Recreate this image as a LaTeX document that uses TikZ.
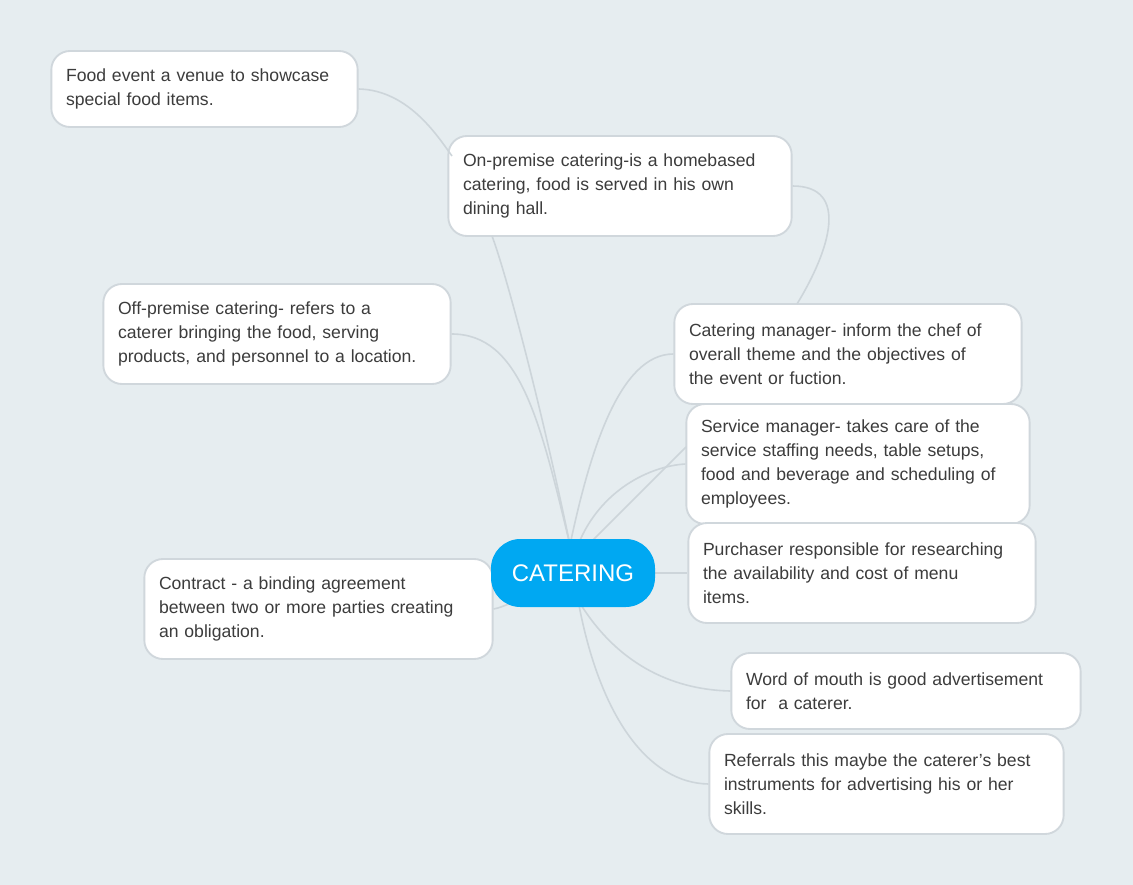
\documentclass[tikz,border=0pt]{standalone}
\usepackage{fontspec}
\setmainfont{Liberation Sans}
\definecolor{bg}{HTML}{E6EDF0}
\definecolor{bd}{HTML}{D0D7DC}
\definecolor{tx}{HTML}{3C3C3C}
\definecolor{rootc}{HTML}{00A8F2}
\definecolor{ln}{HTML}{CDD5DA}
\begin{document}
\begin{tikzpicture}[x=0.75pt,y=-0.75pt,
  box/.style={draw=bd,line width=1.4pt,fill=white,rounded corners=14pt,align=left,
    text=tx,font=\fontsize{13.2pt}{18pt}\selectfont,inner xsep=11pt,inner ysep=0pt},
  conn/.style={draw=ln,line width=1.2pt}]
\fill[bg] (0,0) rectangle (1133,885);
\node[box,text width=207.75pt,minimum height=57pt] (n1) at (204.5,89) {Food event a venue to showcase\\special food items.};
\node[box,text width=235.5pt,minimum height=75pt] (n2) at (620,186) {On-premise catering-is a homebased\\catering, food is served in his own\\dining hall.};
\node[box,text width=238.5pt,minimum height=75pt] (n3) at (277,334) {Off-premise catering- refers to a\\caterer bringing the food, serving\\products, and personnel to a location.};
\node[box,text width=238.5pt,minimum height=75pt] (n4) at (848,354) {Catering manager- inform the chef of\\overall theme and the objectives of\\the event or fuction.};
\node[box,text width=235.5pt,minimum height=90pt] (n5) at (858,464) {Service manager- takes care of the\\service staffing needs, table setups,\\food and beverage and scheduling of\\employees.};
\node[box,text width=238.5pt,minimum height=75pt] (n6) at (862,573) {Purchaser responsible for researching\\the availability and cost of menu\\items.};
\node[box,text width=239.25pt,minimum height=75pt] (n7) at (318.5,609) {Contract - a binding agreement\\between two or more parties creating\\an obligation.};
\node[box,text width=240pt,minimum height=57pt] (n8) at (906,691) {Word of mouth is good advertisement\\for~~a caterer.};
\node[box,text width=243.75pt,minimum height=75pt] (n9) at (886.5,784) {Referrals this maybe the caterer's best\\instruments for advertising his or her\\skills.};
\coordinate (r) at (570,545);
\coordinate (rb) at (578,600);
\coordinate (c1) at (452,156);
\coordinate (c2) at (492,236);
\coordinate (c4) at (797,304);
\coordinate (c5) at (686,447);
\draw[conn] (n1.east) .. controls (410,90) and (440,140) .. (c1);
\draw[conn] (n2.east) .. controls (850,186) and (830,250) .. (c4);
\draw[conn] (r) .. controls (540,400) and (505,270) .. (c2);
\draw[conn] (r) .. controls (540,420) and (520,334) .. (n3.east);
\draw[conn] (r) .. controls (590,450) and (620,354) .. (n4.west);
\draw[conn] (578,545) .. controls (600,490) and (650,466) .. (n5.west);
\draw[conn] (585,548) -- (c5);
\draw[conn] (650,573) -- (n6.west);
\draw[conn] (520,600) .. controls (505,605) and (500,608) .. (n7.east);
\draw[conn] (rb) .. controls (620,670) and (680,690) .. (n8.west);
\draw[conn] (rb) .. controls (600,720) and (650,783) .. (n9.west);
\node[fill=rootc,text=white,rounded corners=22pt,minimum width=123pt,minimum height=51pt,
  font=\fontsize{18pt}{20pt}\selectfont] (root) at (573,573) {CATERING};
\end{tikzpicture}
\end{document}
